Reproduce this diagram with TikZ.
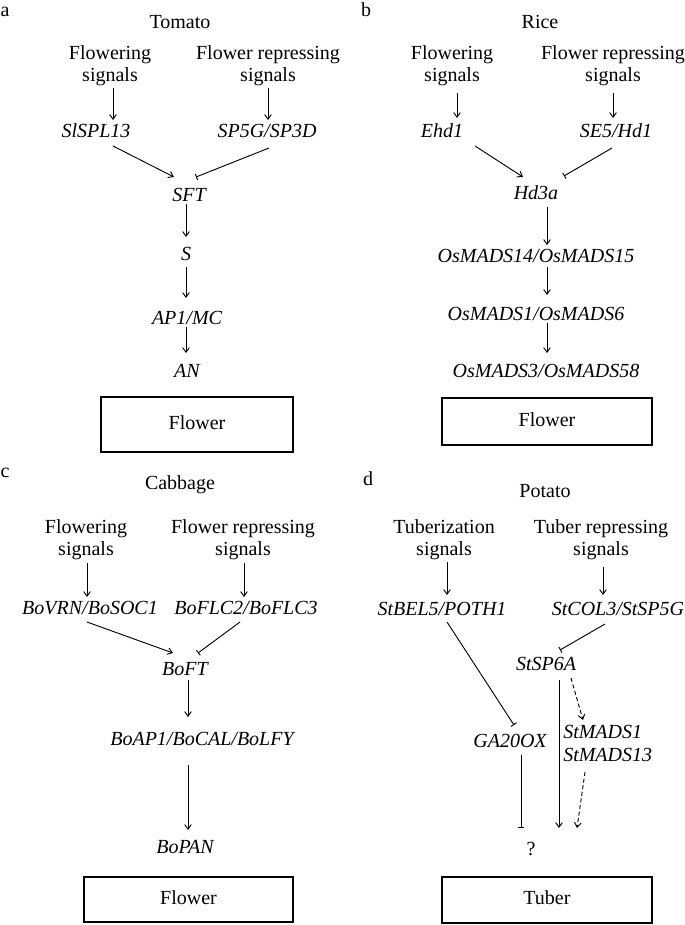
\documentclass[tikz,border=0pt]{standalone}
\usepackage{fontspec}
\setmainfont{Liberation Serif}
\usetikzlibrary{arrows.meta,calc}
\newcommand{\fsz}{\fontsize{15}{16.5}\selectfont}
\begin{document}
\begin{tikzpicture}[x=0.75pt,y=-0.75pt,
  every node/.style={inner sep=0pt, font=\fsz},
  plain/.style={anchor=base},
  gene/.style={anchor=base, font=\fsz\itshape},
  sig/.style={anchor=south, align=center},
  boxn/.style={draw, line width=0.9pt, text height=0.68em, text depth=0pt},
  arr/.style={line width=0.7pt, -{Straight Barb[length=3.5pt,width=5pt]}},
  inh/.style={line width=0.7pt, -{Bar[width=5pt,line width=0.7pt]}},
  darr/.style={line width=0.7pt, dash pattern=on 3pt off 2pt, -{Straight Barb[length=3.5pt,width=5pt]}}
]
\useasboundingbox (0,0) rectangle (685,925);

% ---------------- Panel a: Tomato
\node[plain] (aL) at (5,16) {a};
\node[plain] (aT) at (180,28) {Tomato};
\node[sig] (aFS) at (110,86.4) {Flowering\\signals};
\node[sig] (aFR) at (268,86.4) {Flower repressing\\signals};
\node[gene] (aSPL) at (96,137) {SlSPL13};
\node[gene] (aSP5) at (267,137) {SP5G/SP3D};
\node[gene] (aSFT) at (189,201) {SFT};
\node[gene] (aS) at (186,260) {S};
\node[gene] (aAP) at (187,324) {AP1/MC};
\node[gene] (aAN) at (187,377) {AN};
\node[boxn, minimum width=144pt, minimum height=41.25pt] (aBox) at (197,424.5) {Flower};

\draw[arr] ($(aFS.south)+(3,1.6)$) -- ($(aSPL.base)+(17,-17)$);
\draw[arr] ($(aFR.south)+(0,1.6)$) -- ($(aSP5.base)+(1,-17)$);
\draw[arr] ($(aSPL.base)+(17,9)$) -- ($(aSFT.base)+(-15,-24)$);
\draw[inh] ($(aSP5.base)+(2,11)$) -- ($(aSFT.base)+(7,-24)$);
\draw[arr] ($(aSFT.base)+(-3,3)$) -- ($(aS.base)+(0,-23)$);
\draw[arr] ($(aS.base)+(0,7)$) -- ($(aAP.base)+(-1,-26)$);
\draw[arr] ($(aAP.base)+(-1,3)$) -- ($(aAN.base)+(-1,-24)$);

% ---------------- Panel b: Rice
\node[plain] (bL) at (366,16) {b};
\node[plain] (bT) at (540,28) {Rice};
\node[sig] (bFS) at (452,86.4) {Flowering\\signals};
\node[sig] (bFR) at (613,86.4) {Flower repressing\\signals};
\node[gene] (bEhd) at (442,137) {Ehd1};
\node[gene] (bSE5) at (616,137) {SE5/Hd1};
\node[gene] (bHd3a) at (536,199) {Hd3a};
\node[gene] (bO14) at (536,262) {OsMADS14/OsMADS15};
\node[gene] (bO1) at (536,320) {OsMADS1/OsMADS6};
\node[gene] (bO3) at (546,377) {OsMADS3/OsMADS58};
\node[boxn, minimum width=157.5pt, minimum height=35.25pt] (bBox) at (547,421.5) {Flower};

\draw[arr] ($(bFS.south)+(5,6.6)$) -- ($(bEhd.base)+(15,-19)$);
\draw[arr] ($(bFR.south)+(0,6.6)$) -- ($(bSE5.base)+(-3,-19)$);
\draw[arr] ($(bEhd.base)+(33,9)$) -- ($(bHd3a.base)+(-13,-22)$);
\draw[inh] ($(bSE5.base)+(-4,11)$) -- ($(bHd3a.base)+(28,-23)$);
\draw[arr] ($(bHd3a.base)+(11,8)$) -- ($(bO14.base)+(11,-17)$);
\draw[arr] ($(bO14.base)+(11,5)$) -- ($(bO1.base)+(11,-25)$);
\draw[arr] ($(bO1.base)+(11,3)$) -- ($(bO3.base)+(1,-24)$);

% ---------------- Panel c: Cabbage
\node[plain] (cL) at (5,477) {c};
\node[plain] (cT) at (180,489) {Cabbage};
\node[sig] (cFS) at (86,560.4) {Flowering\\signals};
\node[sig] (cFR) at (243,560.4) {Flower repressing\\signals};
\node[gene] (cVRN) at (90,614) {BoVRN/BoSOC1};
\node[gene] (cFLC) at (246,614) {BoFLC2/BoFLC3};
\node[gene] (cFT) at (185,675) {BoFT};
\node[gene] (cAP) at (202,745) {BoAP1/BoCAL/BoLFY};
\node[gene] (cPAN) at (185,853) {BoPAN};
\node[boxn, minimum width=156.75pt, minimum height=33.75pt] (cBox) at (188.5,899.5) {Flower};

\draw[arr] ($(cFS.south)+(1,2.6)$) -- ($(cVRN.base)+(-3,-17)$);
\draw[arr] ($(cFR.south)+(1,2.6)$) -- ($(cFLC.base)+(-2,-17)$);
\draw[arr] ($(cVRN.base)+(-3,8)$) -- ($(cFT.base)+(-12,-22)$);
\draw[inh] ($(cFLC.base)+(-6,8)$) -- ($(cFT.base)+(13,-22)$);
\draw[arr] ($(cFT.base)+(3,5)$) -- ($(cAP.base)+(-14,-28)$);
\draw[arr] ($(cAP.base)+(-14,20)$) -- ($(cPAN.base)+(3,-23)$);

% ---------------- Panel d: Potato
\node[plain] (dL) at (368,485) {d};
\node[plain] (dT) at (545,497) {Potato};
\node[sig] (dFS) at (444,560.4) {Tuberization\\signals};
\node[sig] (dFR) at (601,560.4) {Tuber repressing\\signals};
\node[gene] (dBEL) at (442,615) {StBEL5/POTH1};
\node[gene] (dCOL) at (618,615) {StCOL3/StSP5G};
\node[gene] (dSP6) at (546,670) {StSP6A};
\node[gene] (dGA) at (510,747) {GA20OX};
\node[anchor=north west, align=left, font=\fontsize{15}{17.5}\selectfont\itshape] (dMADS) at (563,724.5) {StMADS1\\StMADS13};
\node[plain] (dQ) at (531,855) {?};
\node[boxn, minimum width=157.5pt, minimum height=34.5pt] (dBox) at (547,900) {Tuber};

\draw[arr] ($(dFS.south)+(3,1.6)$) -- ($(dBEL.base)+(5,-20)$);
\draw[arr] ($(dFR.south)+(2,6.6)$) -- ($(dCOL.base)+(-15,-20)$);
\draw[inh] ($(dCOL.base)+(-13,9)$) -- ($(dSP6.base)+(14,-20)$);
\draw[inh] ($(dBEL.base)+(5,7)$) -- ($(dGA.base)+(4,-22)$);
\draw[inh] ($(dGA.base)+(11,8)$) -- ($(dQ.base)+(-10,-27)$);
\draw[arr] ($(dSP6.base)+(13,10)$) -- ($(dQ.base)+(28,-27)$);
\draw[darr] ($(dSP6.base)+(25,8)$) -- ($(dMADS.north west)+(20,-4.5)$);
\draw[darr] ($(dMADS.north west)+(22,47.5)$) -- ($(dQ.base)+(46,-27)$);
\end{tikzpicture}
\end{document}
